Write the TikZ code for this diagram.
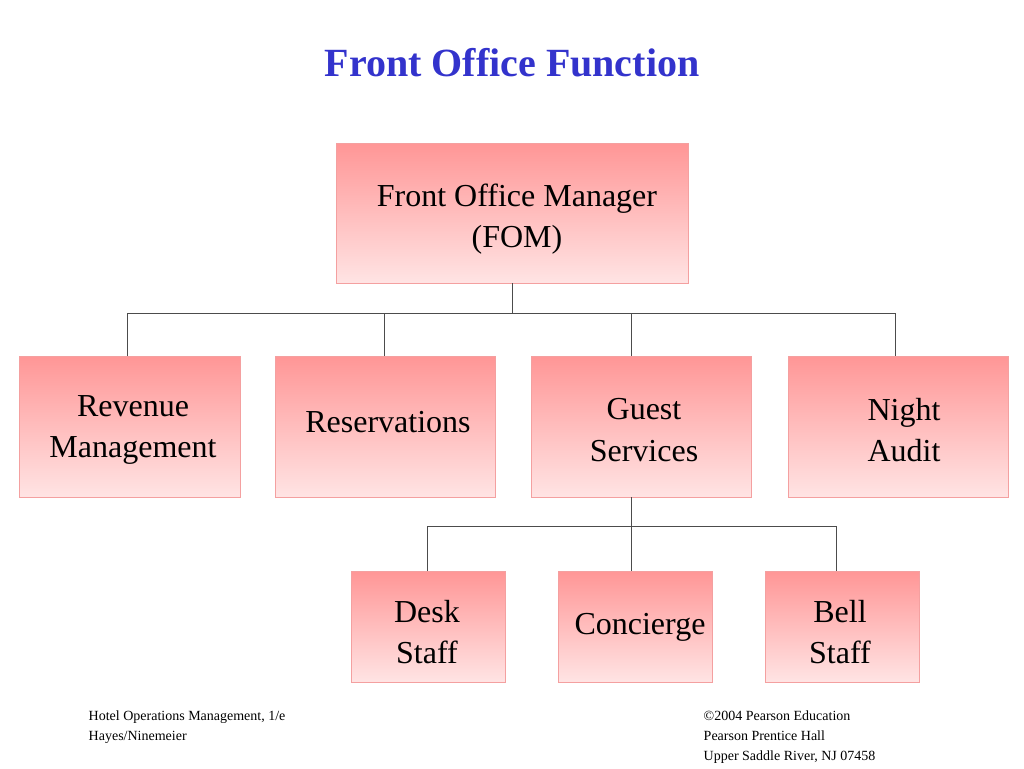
\documentclass[tikz,border=0pt]{standalone}
\usepackage{fontspec}
\setmainfont{Liberation Serif}
\definecolor{boxtop}{HTML}{FF9696}
\definecolor{boxbot}{HTML}{FFE4E4}
\definecolor{boxline}{HTML}{F4A0A0}
\definecolor{titleblue}{HTML}{3333CC}
\tikzset{
  unit/.style={draw=boxline, top color=boxtop, bottom color=boxbot},
  txt/.style={font=\fontsize{24}{31}\selectfont, align=center},
  foot/.style={font=\fontsize{10.5}{15}\selectfont, align=left, anchor=north west},
  link/.style={draw=black!70, line width=0.6pt}
}
\begin{document}
\begin{tikzpicture}[x=0.75pt,y=-0.75pt]
  \useasboundingbox (0,0) rectangle (1024,768);
  \node[font=\bfseries\fontsize{30}{36}\selectfont, text=titleblue] (title) at (512,63) {Front Office Function};

  % boxes
  \path[unit] (336,143) rectangle (688,283);
  \coordinate (fom) at (512,283);
  \node[txt] (fomtext) at (517,219) {Front Office Manager\\(FOM)};

  \path[unit] (19,356) rectangle (240,497);
  \path[unit] (275,356) rectangle (495,497);
  \path[unit] (531,356) rectangle (751,497);
  \path[unit] (788,356) rectangle (1008,497);
  \node[txt] (revenue) at (133,430) {Revenue\\Management};
  \node[txt] (reserv) at (388,422) {Reservations};
  \node[txt] (guest) at (644,430) {Guest\\Services};
  \node[txt] (night) at (904,430) {Night\\Audit};

  \path[unit] (351,571) rectangle (505,682);
  \path[unit] (558,571) rectangle (712,682);
  \path[unit] (765,571) rectangle (919,682);
  \node[txt] (desk) at (427,632) {Desk\\Staff};
  \node[txt] (concierge) at (640,627) {Concierge};
  \node[txt] (bell) at (840,632) {Bell\\Staff};

  % connectors
  \coordinate (bus1) at (512,313);
  \draw[link] (fom) -- (bus1);
  \draw[link] (127,356) |- (895,313) -- (895,356);
  \foreach \x in {384,631} \draw[link] (\x,313) -- (\x,356);
  \coordinate (gs) at (631,497);
  \draw[link] (gs) -- (631,526);
  \draw[link] (427,571) |- (836,526) -- (836,571);
  \draw[link] (631,526) -- (631,571);

  % footer
  \node[foot] (footl) at (84,706) {Hotel Operations Management, 1/e\\Hayes/Ninemeier};
  \node[foot] (footr) at (699,706) {©2004 Pearson Education\\Pearson Prentice Hall\\Upper Saddle River, NJ 07458};
\end{tikzpicture}
\end{document}
